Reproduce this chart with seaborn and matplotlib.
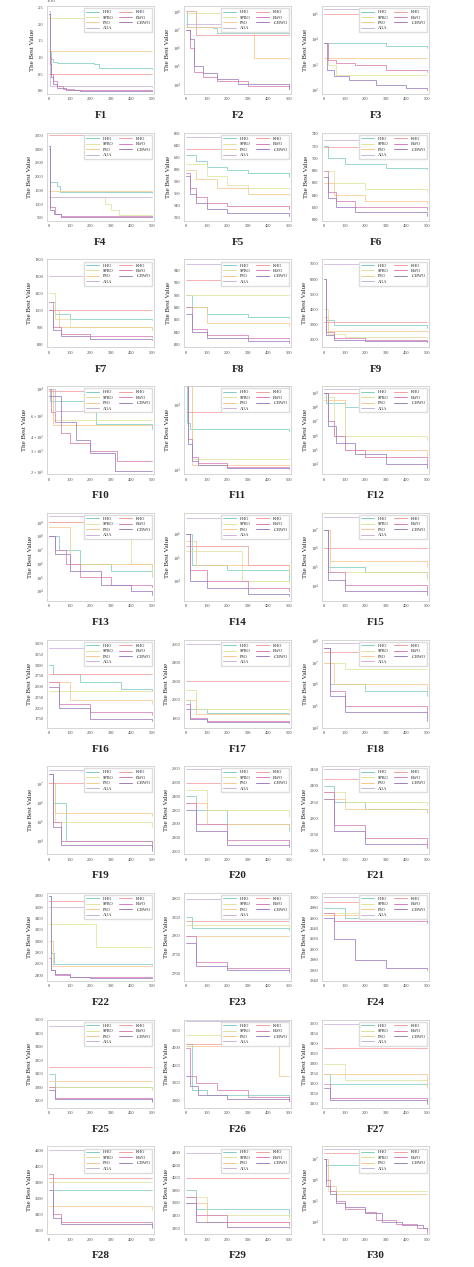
import numpy as np
import pandas as pd
import matplotlib
matplotlib.use("Agg")
import matplotlib.pyplot as plt
from matplotlib.lines import Line2D
import seaborn as sns

# algorithms and colours
algs = ['HHO', 'SPBO', 'PSO', 'AOA', 'KHO', 'BWO', 'tCBWO']
colors = ['#80cdc1', '#dfe39a', '#f6c98f', '#c9b3d9', '#f29c9c', '#d77fb3', '#9b7fc0']

# convergence curves: (iteration, best value) knots
F1 = {'HHO': [(0, 2.3e10), (3, 1.2e10), (8, 0.95e10), (20, 0.85e10), (40, 0.82e10), (220, 0.8e10), (245, 0.68e10), (500, 0.64e10)],
      'SPBO': [(0, 2.2e10), (500, 2.2e10)],
      'PSO': [(0, 1.2e10), (500, 1.2e10)],
      'AOA': [(0, 2.4e10), (5, 0.15e10), (500, 0.12e10)],
      'KHO': [(0, 0.5e10), (500, 0.5e10)],
      'BWO': [(0, 2.3e10), (5, 1.0e10), (10, 0.5e10), (20, 0.3e10), (40, 0.15e10), (70, 0.05e10), (120, 0.01e10), (500, 0.0)],
      'tCBWO': [(0, 2.3e10), (5, 0.8e10), (10, 0.4e10), (20, 0.2e10), (40, 0.08e10), (80, 0.02e10), (150, 0.0), (500, 0.0)]}
F2 = {'HHO': [(0, 1e8), (5, 1.5e7), (130, 1.2e7), (150, 7e6), (500, 6e6)],
      'SPBO': [(0, 8e7), (500, 8e7)],
      'PSO': [(0, 1.5e7), (300, 1e7), (330, 3e5), (500, 2.5e5)],
      'AOA': [(0, 2e7), (500, 2e7)],
      'KHO': [(0, 1e8), (50, 1e8), (50, 5e6), (500, 5e6)],
      'BWO': [(0, 1e7), (20, 1e6), (40, 5e4), (80, 2.5e4), (150, 1.5e4), (300, 8e3), (500, 6e3)],
      'tCBWO': [(0, 1e7), (20, 3e6), (40, 1e5), (80, 4e4), (150, 2e4), (250, 1e4), (500, 5.5e3)]}
F3 = {'HHO': [(0, 7e3), (100, 7e3), (300, 5.5e3), (500, 4.5e3)],
      'SPBO': [(0, 7e3), (20, 1e3), (60, 4e2), (500, 4e2)],
      'PSO': [(0, 1.8e3), (500, 1.8e3)],
      'AOA': [(0, 1.5e5), (500, 1.5e5)],
      'KHO': [(0, 1e5), (500, 1e5)],
      'BWO': [(0, 7e3), (20, 1.5e3), (60, 1.2e3), (150, 1e3), (300, 6e2), (500, 5e2)],
      'tCBWO': [(0, 7e3), (15, 6e2), (50, 3.5e2), (120, 2.5e2), (250, 1.6e2), (400, 1.2e2), (500, 1e2)]}
F4 = {'HHO': [(0, 3100), (5, 1800), (40, 1650), (55, 1450), (500, 1400)],
      'SPBO': [(0, 1250), (250, 1250), (270, 1000), (300, 800), (340, 620), (500, 560)],
      'PSO': [(0, 1480), (500, 1480)],
      'AOA': [(0, 1250), (500, 1250)],
      'KHO': [(0, 3500), (500, 3500)],
      'BWO': [(0, 3000), (5, 900), (30, 650), (60, 560), (500, 540)],
      'tCBWO': [(0, 3100), (5, 800), (25, 640), (60, 550), (150, 530), (500, 520)]}
F5 = {'HHO': [(0, 625), (50, 615), (100, 605), (200, 600), (300, 595), (500, 588)],
      'SPBO': [(0, 610), (100, 590), (200, 575), (300, 570), (500, 570)],
      'PSO': [(0, 600), (50, 585), (150, 570), (300, 560), (500, 558)],
      'AOA': [(0, 655), (500, 655)],
      'KHO': [(0, 635), (500, 635)],
      'BWO': [(0, 595), (20, 570), (50, 555), (100, 545), (200, 540), (500, 535)],
      'tCBWO': [(0, 590), (20, 560), (50, 545), (100, 535), (200, 528), (500, 523)]}
F6 = {'HHO': [(0, 720), (20, 700), (100, 690), (300, 685), (500, 682)],
      'SPBO': [(0, 680), (50, 660), (200, 650), (500, 645)],
      'PSO': [(0, 660), (50, 640), (200, 630), (500, 625)],
      'AOA': [(0, 730), (500, 730)],
      'KHO': [(0, 718), (500, 718)],
      'BWO': [(0, 680), (20, 645), (60, 630), (150, 620), (500, 615)],
      'tCBWO': [(0, 670), (20, 635), (60, 620), (150, 612), (500, 606)]}
F7 = {'HHO': [(0, 1050), (30, 980), (100, 950), (500, 940)],
      'SPBO': [(0, 1100), (30, 950), (100, 900), (500, 880)],
      'PSO': [(0, 1000), (50, 900), (500, 880)],
      'AOA': [(0, 1200), (500, 1200)],
      'KHO': [(0, 1000), (500, 1000)],
      'BWO': [(0, 1050), (20, 900), (60, 860), (200, 845), (500, 840)],
      'tCBWO': [(0, 1000), (20, 880), (60, 845), (200, 830), (500, 825)]}
F8 = {'HHO': [(0, 900), (30, 880), (100, 870), (300, 865), (500, 862)],
      'SPBO': [(0, 900), (500, 900)],
      'PSO': [(0, 880), (100, 855), (500, 850)],
      'AOA': [(0, 950), (500, 950)],
      'KHO': [(0, 925), (500, 925)],
      'BWO': [(0, 880), (30, 845), (100, 835), (300, 830), (500, 828)],
      'tCBWO': [(0, 870), (30, 840), (100, 830), (300, 825), (500, 822)]}
F9 = {'HHO': [(0, 6000), (10, 3300), (50, 3000), (500, 2800)],
      'SPBO': [(0, 4000), (20, 2400), (100, 2200), (500, 2100)],
      'PSO': [(0, 3500), (20, 2600), (500, 2500)],
      'AOA': [(0, 7000), (500, 7000)],
      'KHO': [(0, 3200), (500, 3200)],
      'BWO': [(0, 6000), (10, 2500), (50, 2100), (200, 2000), (500, 1950)],
      'tCBWO': [(0, 6000), (10, 2300), (50, 2000), (200, 1900), (500, 1880)]}
F10 = {'HHO': [(0, 1e4), (5, 7.9e3), (200, 7.9e3), (230, 5.1e3), (500, 4.6e3)],
       'SPBO': [(0, 1e4), (20, 5.5e3), (500, 5.5e3)],
       'PSO': [(0, 1e4), (20, 5e3), (500, 5e3)],
       'AOA': [(0, 1e4), (30, 6.5e3), (500, 6.5e3)],
       'KHO': [(0, 9.6e3), (500, 9.6e3)],
       'BWO': [(0, 1e4), (10, 6.4e3), (30, 5.3e3), (60, 4.3e3), (100, 3.5e3), (200, 3e3), (330, 2.5e3), (500, 2.5e3)],
       'tCBWO': [(0, 8.7e3), (60, 5.3e3), (130, 3.7e3), (200, 2.9e3), (320, 2.05e3), (500, 2.05e3)]}
F11 = {'HHO': [(0, 1.9e4), (5, 5.3e3), (20, 4.2e3), (500, 4.0e3)],
       'SPBO': [(0, 1.9e4), (30, 1.5e3), (500, 1.5e3)],
       'PSO': [(0, 1.9e4), (30, 1.2e3), (500, 1.2e3)],
       'AOA': [(0, 1.9e4), (500, 1.8e4)],
       'KHO': [(0, 7.8e3), (500, 7.8e3)],
       'BWO': [(0, 1.9e4), (10, 3e3), (30, 1.6e3), (60, 1.3e3), (200, 1.12e3), (500, 1.1e3)],
       'tCBWO': [(0, 1.9e4), (10, 2.5e3), (30, 1.4e3), (60, 1.2e3), (200, 1.08e3), (500, 1.05e3)]}
F12 = {'HHO': [(0, 1e9), (10, 2e8), (100, 1e8), (300, 6e7), (500, 5e7)],
       'SPBO': [(0, 5e8), (50, 1e6), (500, 5e5)],
       'PSO': [(0, 3e8), (100, 1e5), (500, 3e4)],
       'AOA': [(0, 2e9), (500, 2e9)],
       'KHO': [(0, 1e9), (500, 1e9)],
       'BWO': [(0, 1e9), (20, 1e7), (50, 1e6), (100, 1e5), (200, 3e4), (500, 1e4)],
       'tCBWO': [(0, 1e9), (20, 5e6), (60, 3e5), (150, 5e4), (300, 1e4), (500, 5e3)]}
F13 = {'HHO': [(0, 1e8), (50, 1e7), (150, 1e6), (300, 3e5), (500, 1e5)],
       'SPBO': [(0, 1e9), (250, 5e8), (300, 1e8), (400, 1e6), (500, 1e5)],
       'PSO': [(0, 5e8), (100, 1e6), (500, 5e5)],
       'AOA': [(0, 3e9), (500, 3e9)],
       'KHO': [(0, 1e9), (500, 1e9)],
       'BWO': [(0, 1e8), (30, 1e7), (80, 1e6), (150, 1e5), (300, 3e4), (500, 2e4)],
       'tCBWO': [(0, 1e8), (30, 5e6), (100, 3e5), (250, 3e4), (400, 1e4), (500, 5e3)]}
F14 = {'HHO': [(0, 1e6), (30, 5e4), (200, 3e4), (500, 1e4)],
       'SPBO': [(0, 2e5), (250, 2e5), (270, 1e4), (500, 8e3)],
       'PSO': [(0, 5e5), (50, 5e4), (500, 2e4)],
       'AOA': [(0, 5e6), (500, 5e6)],
       'KHO': [(0, 3e5), (300, 3e5), (300, 5e4), (500, 5e4)],
       'BWO': [(0, 1e6), (20, 3e4), (100, 1e4), (300, 5e3), (500, 4e3)],
       'tCBWO': [(0, 1e6), (20, 1e4), (100, 5e3), (300, 3e3), (500, 2.5e3)]}
F15 = {'HHO': [(0, 1e7), (20, 1e5), (200, 5e4), (500, 3e4)],
       'SPBO': [(0, 1e7), (30, 5e4), (500, 2e4)],
       'PSO': [(0, 1e7), (30, 2e5), (500, 1e5)],
       'AOA': [(0, 5e7), (500, 5e7)],
       'KHO': [(0, 1e6), (500, 1e6)],
       'BWO': [(0, 1e7), (20, 5e4), (100, 1e4), (500, 5e3)],
       'tCBWO': [(0, 1e7), (20, 2e4), (100, 5e3), (500, 3e3)]}
F16 = {'HHO': [(0, 3000), (20, 2800), (150, 2600), (350, 2450), (500, 2400)],
       'SPBO': [(0, 2400), (500, 2400)],
       'PSO': [(0, 2600), (100, 2200), (500, 2100)],
       'AOA': [(0, 3400), (500, 3400)],
       'KHO': [(0, 2800), (500, 2800)],
       'BWO': [(0, 2600), (50, 2100), (200, 1900), (500, 1850)],
       'tCBWO': [(0, 2500), (50, 2000), (200, 1750), (500, 1700)]}
F17 = {'HHO': [(0, 2000), (20, 1900), (100, 1860), (500, 1850)],
       'SPBO': [(0, 2100), (50, 1900), (500, 1880)],
       'PSO': [(0, 2000), (50, 1850), (500, 1840)],
       'AOA': [(0, 2600), (500, 2600)],
       'KHO': [(0, 2200), (500, 2200)],
       'BWO': [(0, 1950), (20, 1800), (100, 1770), (500, 1760)],
       'tCBWO': [(0, 1900), (20, 1790), (100, 1760), (500, 1750)]}
F18 = {'HHO': [(0, 5e7), (30, 1e6), (200, 5e5), (500, 3e5)],
       'SPBO': [(0, 1e7), (100, 5e6), (500, 5e6)],
       'PSO': [(0, 1e7), (50, 1e6), (500, 5e5)],
       'AOA': [(0, 8e7), (500, 8e7)],
       'KHO': [(0, 3e7), (500, 3e7)],
       'BWO': [(0, 5e7), (30, 5e5), (100, 1e5), (500, 5e4)],
       'tCBWO': [(0, 5e7), (30, 3e5), (100, 5e4), (500, 2e4)]}
F19 = {'HHO': [(0, 3e7), (20, 1e6), (80, 1e4), (500, 8e3)],
       'SPBO': [(0, 1e7), (30, 1e5), (500, 5e4)],
       'PSO': [(0, 1e7), (30, 3e5), (500, 2e5)],
       'AOA': [(0, 5e7), (500, 5e7)],
       'KHO': [(0, 1e7), (500, 1e7)],
       'BWO': [(0, 3e7), (20, 1e5), (60, 1e4), (500, 5e3)],
       'tCBWO': [(0, 3e7), (20, 5e4), (60, 6e3), (500, 3e3)]}
F20 = {'HHO': [(0, 2400), (50, 2300), (200, 2200), (500, 2150)],
       'SPBO': [(0, 2450), (100, 2300), (500, 2250)],
       'PSO': [(0, 2350), (100, 2200), (500, 2180)],
       'AOA': [(0, 2600), (500, 2600)],
       'KHO': [(0, 2500), (500, 2500)],
       'BWO': [(0, 2350), (50, 2200), (200, 2080), (500, 2050)],
       'tCBWO': [(0, 2300), (50, 2150), (200, 2050), (500, 2030)]}
F21 = {'HHO': [(0, 2400), (50, 2350), (200, 2330), (500, 2320)],
       'SPBO': [(0, 2380), (100, 2350), (500, 2340)],
       'PSO': [(0, 2360), (100, 2330), (500, 2320)],
       'AOA': [(0, 2450), (500, 2450)],
       'KHO': [(0, 2420), (500, 2420)],
       'BWO': [(0, 2380), (50, 2280), (200, 2240), (500, 2220)],
       'tCBWO': [(0, 2360), (50, 2260), (200, 2220), (500, 2210)]}
F22 = {'HHO': [(0, 3800), (10, 2800), (25, 2600), (500, 2580)],
       'SPBO': [(0, 3300), (230, 3300), (230, 2900), (500, 2900)],
       'PSO': [(0, 3000), (20, 2560), (500, 2560)],
       'AOA': [(0, 3600), (500, 3600)],
       'KHO': [(0, 3700), (500, 3700)],
       'BWO': [(0, 2700), (10, 2500), (30, 2400), (100, 2360), (500, 2350)],
       'tCBWO': [(0, 3800), (10, 2500), (30, 2420), (100, 2370), (200, 2350), (500, 2345)]}
F23 = {'HHO': [(0, 2850), (30, 2820), (500, 2815)],
       'SPBO': [(0, 2830), (500, 2825)],
       'PSO': [(0, 2800), (500, 2800)],
       'AOA': [(0, 2900), (500, 2900)],
       'KHO': [(0, 2840), (500, 2840)],
       'BWO': [(0, 2800), (50, 2730), (200, 2715), (500, 2710)],
       'tCBWO': [(0, 2780), (50, 2720), (200, 2710), (500, 2705)]}
F24 = {'HHO': [(0, 2980), (100, 2960), (500, 2955)],
       'SPBO': [(0, 2970), (500, 2955)],
       'PSO': [(0, 2965), (500, 2952)],
       'AOA': [(0, 3000), (500, 3000)],
       'KHO': [(0, 2990), (500, 2990)],
       'BWO': [(0, 2970), (50, 2955), (500, 2950)],
       'tCBWO': [(0, 2960), (50, 2920), (150, 2880), (300, 2865), (500, 2860)]}
F25 = {'HHO': [(0, 3100), (30, 3000), (500, 2990)],
       'SPBO': [(0, 3000), (500, 2980)],
       'PSO': [(0, 3050), (500, 3050)],
       'AOA': [(0, 3450), (500, 3450)],
       'KHO': [(0, 3150), (500, 3150)],
       'BWO': [(0, 3000), (30, 2920), (500, 2900)],
       'tCBWO': [(0, 2980), (30, 2910), (500, 2890)]}
F26 = {'HHO': [(0, 4600), (30, 3300), (100, 3150), (500, 3100)],
       'SPBO': [(0, 4850), (500, 4850)],
       'PSO': [(0, 4550), (440, 4550), (450, 3700), (500, 3700)],
       'AOA': [(0, 5250), (500, 5250)],
       'KHO': [(0, 4600), (500, 4600)],
       'BWO': [(0, 4500), (20, 3700), (50, 3500), (150, 3300), (300, 3100), (500, 3000)],
       'tCBWO': [(0, 3700), (20, 3400), (60, 3150), (200, 3050), (500, 2980)]}
F27 = {'HHO': [(0, 3250), (30, 3200), (500, 3190)],
       'SPBO': [(0, 3300), (100, 3220), (500, 3210)],
       'PSO': [(0, 3250), (500, 3180)],
       'AOA': [(0, 3500), (500, 3500)],
       'KHO': [(0, 3380), (500, 3380)],
       'BWO': [(0, 3200), (30, 3130), (500, 3110)],
       'tCBWO': [(0, 3180), (30, 3120), (500, 3100)]}
F28 = {'HHO': [(0, 3800), (20, 3700), (500, 3700)],
       'SPBO': [(0, 3800), (500, 3800)],
       'PSO': [(0, 3500), (500, 3450)],
       'AOA': [(0, 4200), (500, 4200)],
       'KHO': [(0, 3850), (500, 3850)],
       'BWO': [(0, 3900), (20, 3400), (60, 3300), (500, 3250)],
       'tCBWO': [(0, 3700), (20, 3350), (60, 3280), (500, 3230)]}
F29 = {'HHO': [(0, 3800), (50, 3500), (500, 3400)],
       'SPBO': [(0, 3700), (100, 3400), (500, 3350)],
       'PSO': [(0, 3600), (100, 3300), (500, 3280)],
       'AOA': [(0, 4400), (500, 4400)],
       'KHO': [(0, 4000), (500, 4000)],
       'BWO': [(0, 3700), (50, 3400), (200, 3300), (500, 3250)],
       'tCBWO': [(0, 3600), (50, 3300), (200, 3220), (500, 3200)]}
F30 = {'HHO': [(0, 1e7), (10, 5e6), (500, 4.5e6)],
       'SPBO': [(0, 1e7), (20, 3e5), (500, 3e5)],
       'PSO': [(0, 1e7), (20, 5e5), (60, 2e5), (500, 2e5)],
       'AOA': [(0, 3e7), (500, 3e7)],
       'KHO': [(0, 2e7), (500, 2e7)],
       'BWO': [(0, 1e7), (10, 1e6), (30, 3e5), (60, 1e5), (100, 4e4), (200, 3e4), (250, 1.2e4), (350, 8e3), (450, 5e3), (500, 3e3)],
       'tCBWO': [(0, 1e7), (10, 5e5), (30, 2e5), (60, 8e4), (100, 5e4), (200, 2.5e4), (280, 1e4), (380, 7e3), (480, 5e3), (500, 4e3)]}

funcs = [F1, F2, F3, F4, F5, F6, F7, F8, F9, F10, F11, F12, F13, F14, F15,
         F16, F17, F18, F19, F20, F21, F22, F23, F24, F25, F26, F27, F28, F29, F30]
names = ['F%d' % (i + 1) for i in range(30)]

log_panels = {2, 3, 10, 11, 12, 13, 14, 15, 18, 19, 30}
ylims = {1: (-0.1e10, 2.55e10), 2: (3e3, 2e8), 3: (7e1, 2e5), 4: (400, 3600), 5: (515, 662),
         6: (598, 742), 7: (780, 1300), 8: (815, 958), 9: (1500, 7300), 10: (1.93e3, 1.06e4),
         11: (8.7e2, 1.9e4), 12: (2e3, 3e9), 13: (2e3, 5e9), 14: (1.5e3, 8e6), 15: (1.5e3, 8e7),
         16: (1550, 3600), 17: (1700, 2650), 18: (1e4, 1.2e8), 19: (2e3, 8e7), 20: (1980, 2620),
         21: (2190, 2460), 22: (2300, 3850), 23: (2680, 2915), 24: (2840, 3008), 25: (2850, 3500),
         26: (2800, 5300), 27: (3080, 3520), 28: (3150, 4250), 29: (3100, 4500), 30: (2.5e3, 4e7)}

sns.set_theme(style='white')
plt.rcParams['font.family'] = ['Liberation Serif', 'DejaVu Serif']
plt.rcParams['axes.edgecolor'] = '#cfcfcf'
plt.rcParams['axes.linewidth'] = 0.6

fig = plt.figure(figsize=(4.74, 12.67), dpi=100)
W, H = 474.0, 1267.0
col_left = [47, 184, 322]
ax_w, ax_h = 107, 88

handles = [Line2D([0], [0], color=c, lw=0.7) for c in colors]

for k, (name, curves) in enumerate(zip(names, funcs)):
    r, c = divmod(k, 3)
    top = 6 + r * 126.7
    ax = fig.add_axes([col_left[c] / W, 1 - (top + ax_h) / H, ax_w / W, ax_h / H])
    rows = [(a, it, v) for a in algs for it, v in curves[a]]
    df = pd.DataFrame(rows, columns=['alg', 'iter', 'value'])
    sns.lineplot(data=df, x='iter', y='value', hue='alg', hue_order=algs, palette=colors,
                 estimator=None, sort=False, drawstyle='steps-post', linewidth=0.55,
                 legend=False, ax=ax)
    if k + 1 in log_panels:
        ax.set_yscale('log')
    ax.set_ylim(*ylims[k + 1])
    ax.set_xlim(-10, 510)
    ax.set_xticks([0, 100, 200, 300, 400, 500])
    ax.tick_params(which='both', labelsize=3.2, length=1.5, width=0.4, pad=1, colors='#444444')
    ax.tick_params(which='minor', length=0.8)
    ax.yaxis.get_offset_text().set_fontsize(3.2)
    ax.set_ylabel('The Best Value', fontsize=5, labelpad=2)
    ax.set_xlabel(name, fontsize=8, fontweight='bold', labelpad=7)
    ax.legend(handles, algs, ncol=2, loc='upper right', fontsize=3.2, frameon=True,
              fancybox=False, edgecolor='#dddddd', framealpha=1, handlelength=3,
              columnspacing=1.2, borderpad=0.4, labelspacing=0.3)

fig.savefig('out.png', dpi=100)
